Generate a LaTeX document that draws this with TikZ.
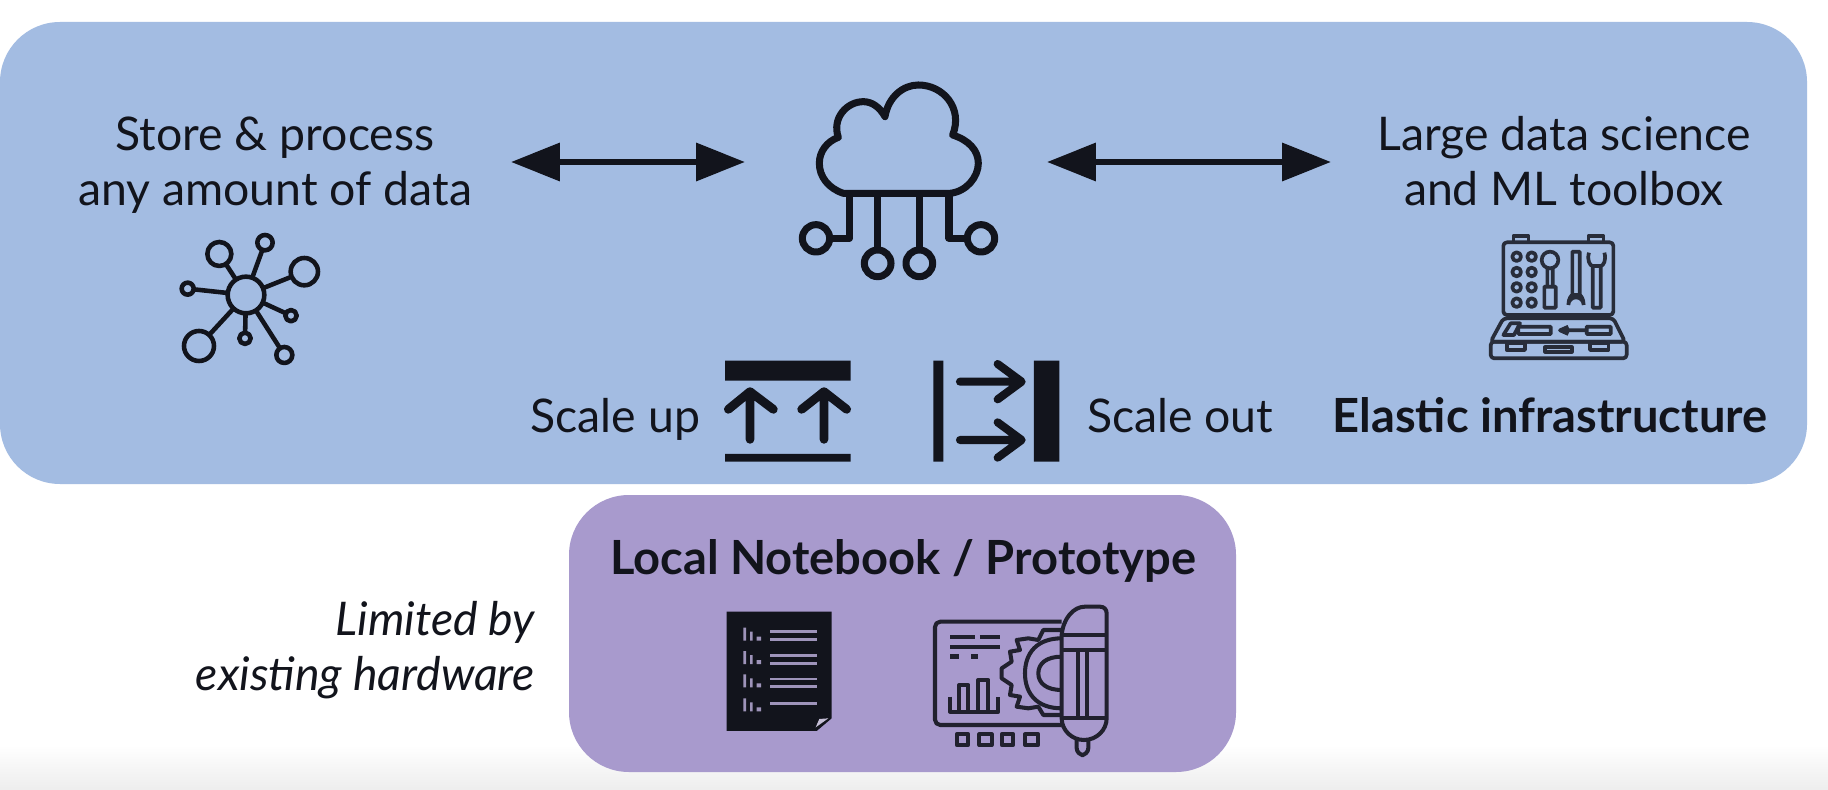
\documentclass[tikz,border=0pt]{standalone}
\usepackage{fontspec}
\usepackage{xcolor}
\usetikzlibrary{arrows.meta}
\setmainfont{Lato}
\definecolor{boxblue}{RGB}{163,188,226}
\definecolor{boxpurple}{RGB}{168,154,205}
\definecolor{ink}{RGB}{18,20,28}
\definecolor{docline}{RGB}{158,148,186}

\begin{document}
\begin{tikzpicture}[x=0.02cm, y=-0.02cm,
        txt/.style={inner sep=0pt, outer sep=0pt, align=center, text=ink, font=\fontsize{26.4}{31}\selectfont},
        boldtxt/.style={txt, font=\fontsize{26.8}{31}\selectfont\bfseries},
        panel/.style={rounded corners=1.2cm},
        arrow/.style={{Triangle[length=0.98cm, width=0.74cm]}-{Triangle[length=0.98cm, width=0.74cm]}, line width=3.8pt, ink},
        icon/.style={draw=ink, line width=3pt, line join=round},
        thinicon/.style={draw=ink!85!boxblue, line width=2.1pt, line join=round},
        padicon/.style={draw=ink!90!boxpurple, line width=2.3pt, line join=round}]

        \useasboundingbox (0,0) rectangle (1828,790);

        % Page
        \fill[white] (0,0) rectangle (1828,790);
        \shade[top color=white, bottom color=black!7] (0,745) rectangle (1828,790);

        % Panels
        \fill[boxblue, panel] (0,22) rectangle (1807,484);
        \fill[boxpurple, panel] (569,495) rectangle (1236,772);

        % Top row
        \node[txt, minimum width=9.44cm] (store) at (275,165) {Store \& process\\any amount of data};
        \node[txt, minimum width=6.04cm] (cloud) at (896,162) {};
        \node[txt, minimum width=9.32cm] (toolbox) at (1564,165) {Large data science\\and ML toolbox\vphantom{y}};

        % Arrows
        \draw[arrow] (store.east |- cloud) -- (cloud);
        \draw[arrow] (cloud) -- (toolbox.west |- cloud);

        % Scale labels
        \node[txt, anchor=base east] (scaleup) at (700,432) {Scale up};
        \node[txt, anchor=base west] (scaleout) at (1087,432) {Scale out};
        \node[boldtxt] (elastic) at (1550,415) {Elastic infrastructure};

        % Lower box labels
        \node[boldtxt] (notebook) at (903,561) {Local Notebook / Prototype};
        \node[txt, align=right, anchor=east, font=\fontsize{26.4}{31}\selectfont\itshape] (limited) at (535,650) {Limited by\\existing hardware};

        % Network icon
        \begin{scope}[shift={(100,60)}, x=0.02cm/3, y=-0.02cm/3]
            \draw[icon, line width=2.6pt] (438,705) -- (358,582) (438,705) -- (495,548) (438,705) -- (613,635)
                (438,705) -- (263,686) (438,705) -- (573,767) (438,705) -- (435,835)
                (438,705) -- (553,885) (438,705) -- (297,858);
            \filldraw[icon, line width=2.6pt, fill=boxblue] (438,705) circle (55)
                (358,582) circle (36) (495,548) circle (23) (613,635) circle (41)
                (263,686) circle (18) (573,767) circle (17) (435,835) circle (17)
                (553,885) circle (24) (297,858) circle (45);
        \end{scope}

        % Cloud icon
        \begin{scope}[shift={(760,60)}, x=0.02cm/3, y=-0.02cm/3]
            \draw[icon, line width=4pt] (250,400) .. controls (205,385) and (178,350) .. (178,310)
                .. controls (178,275) and (200,245) .. (235,232)
                .. controls (215,175) and (260,125) .. (310,125)
                .. controls (335,125) and (358,140) .. (375,170)
                .. controls (385,110) and (430,75) .. (475,75)
                .. controls (550,75) and (610,145) .. (578,225)
                .. controls (625,240) and (655,270) .. (655,310)
                .. controls (655,350) and (620,395) .. (570,400) -- cycle;
            \draw[icon, line width=4pt] (268,400) -- (268,535) -- (205,535)
                (353,400) -- (353,570) (478,400) -- (478,570)
                (567,400) -- (567,535) -- (630,535);
            \draw[icon, line width=4pt] (168,535) circle (41) (353,610) circle (40)
                (478,610) circle (40) (663,535) circle (41);
        \end{scope}

        % Toolbox icon
        \begin{scope}[shift={(1440,210)}, x=0.02cm/3, y=-0.02cm/3]
            \draw[thinicon, rounded corners=2pt] (190,315) -- (190,97) -- (520,97) -- (520,315) -- cycle;
            \draw[thinicon] (220,97) -- (220,78) -- (265,78) -- (265,97) (445,97) -- (445,78) -- (490,78) -- (490,97);
            \draw[thinicon] (230,140) circle (13) (275,140) circle (13) (230,186) circle (13) (275,186) circle (13)
                (230,232) circle (13) (275,232) circle (13) (230,278) circle (13) (275,278) circle (13);
            % tools in the lid
            \draw[thinicon] (330,150) circle (25) (322,175) rectangle (338,230) (313,230) rectangle (347,293);
            \draw[thinicon] (397,125) rectangle (419,255) (385,285) arc (180:360:23) (385,285) .. controls (385,265) and (395,255) .. (397,255) (431,285) .. controls (431,265) and (421,255) .. (419,255);
            \draw[thinicon] (458,168) rectangle (482,293) (447,128) .. controls (440,150) and (450,168) .. (458,168) (493,128) .. controls (500,150) and (490,168) .. (482,168);
            % case body
            \draw[thinicon, rounded corners=2pt] (190,325) -- (520,325) -- (555,395) -- (152,395) -- cycle;
            \draw[thinicon, rounded corners=2pt] (152,395) rectangle (560,445);
            \draw[thinicon] (190,375) -- (212,340) -- (240,340) -- (222,375) -- cycle
                (235,350) rectangle (332,372) (440,350) rectangle (512,372) (440,361) -- (370,361)
                (385,350) -- (360,361) -- (385,372);
            \draw[thinicon] (200,400) rectangle (255,420) (450,400) rectangle (505,420) (315,412) rectangle (395,425);
        \end{scope}

        % Scale up icon
        \begin{scope}[shift={(700,340)}, x=0.02cm/3, y=-0.02cm/3]
            \fill[ink] (75,62) rectangle (452,122) (75,342) rectangle (452,365);
            \draw[icon, line width=5pt, line cap=round] (150,298) -- (150,160) (372,298) -- (372,160)
                (85,208) -- (150,155) -- (220,208) (305,208) -- (372,155) -- (440,208);
        \end{scope}

        % Scale out icon
        \begin{scope}[shift={(700,340)}, x=0.02cm/3, y=-0.02cm/3]
            \fill[ink] (700,62) rectangle (730,365) (1002,62) rectangle (1078,365);
            \draw[icon, line width=4.6pt, line cap=round] (780,125) -- (960,125) (780,300) -- (960,300)
                (893,72) -- (965,125) -- (893,178) (893,247) -- (965,300) -- (893,353);
        \end{scope}

        % Document icon
        \begin{scope}[shift={(700,590)}, x=0.02cm/3, y=-0.02cm/3]
            \fill[ink] (80,65) -- (395,65) -- (395,385) -- (350,423) -- (80,423) -- cycle;
            \fill[docline!60!white] (347,412) -- (358,387) -- (385,385) -- cycle;
            \draw[docline, line width=1.4pt] (210,125) -- (350,125) (210,148) -- (350,148)
                (210,197) -- (350,197) (210,220) -- (350,220)
                (210,267) -- (350,267) (210,290) -- (350,290) (210,340) -- (350,340);
            \fill[docline] (130,113) rectangle (138,152) (150,125) rectangle (158,152) (170,140) rectangle (183,152)
                (130,183) rectangle (138,222) (150,195) rectangle (158,222) (170,210) rectangle (183,222)
                (130,253) rectangle (138,292) (150,265) rectangle (158,292) (170,280) rectangle (183,292)
                (130,325) rectangle (138,364) (150,337) rectangle (158,364) (170,352) rectangle (183,364);
        \end{scope}

        % Prototype icon
        \begin{scope}[shift={(700,590)}, x=0.02cm/3, y=-0.02cm/3]
            \draw[padicon, rounded corners=3pt] (1085,95) -- (705,95) -- (705,405) -- (1085,405);
            \draw[padicon] (750,140) -- (825,140) (840,140) -- (900,140) (750,170) -- (900,170);
            \draw[padicon, dash pattern=on 5pt off 7pt, line width=2.6pt] (750,200) -- (835,200);
            % bar chart
            \draw[padicon] (750,320) -- (750,365) -- (895,365) -- (895,320)
                (778,365) -- (778,285) -- (805,285) -- (805,365)
                (835,365) -- (835,270) -- (865,270) -- (865,365);
            % gear
            \draw[padicon] (1085,120) -- (1030,120) -- (1015,150) -- (985,145) -- (950,150) -- (960,180) -- (930,185) -- (935,215) -- (905,235)
                -- (905,265) -- (935,285) -- (930,315) -- (960,320) -- (950,350) -- (985,355) -- (1015,350) -- (1030,375) -- (1085,375);
            \draw[padicon] (1085,145) .. controls (1010,145) and (975,190) .. (975,250) .. controls (975,310) and (1010,355) .. (1085,355);
            \draw[padicon] (1085,200) .. controls (1040,200) and (1015,220) .. (1015,250) .. controls (1015,280) and (1040,300) .. (1085,300);
            % pencil
            \filldraw[padicon, fill=boxpurple] (1085,135) .. controls (1090,85) and (1120,50) .. (1155,50) -- (1200,50)
                .. controls (1212,50) and (1220,58) .. (1220,70) -- (1220,385) .. controls (1220,420) and (1190,450) .. (1152,450)
                .. controls (1115,450) and (1085,420) .. (1085,385) -- cycle;
            \draw[padicon] (1085,135) -- (1220,135) (1085,180) -- (1220,180) (1085,385) -- (1220,385)
                (1135,180) -- (1135,385) (1162,180) -- (1162,385);
            \draw[padicon, rounded corners=4pt] (1130,450) -- (1130,495) -- (1165,495) -- (1165,450);
            % small keys
            \draw[padicon, line width=2.2pt] (770,433) rectangle (805,465) (838,433) rectangle (875,465)
                (905,433) rectangle (940,465) (975,433) rectangle (1015,465);
        \end{scope}

    \end{tikzpicture}
\end{document}
